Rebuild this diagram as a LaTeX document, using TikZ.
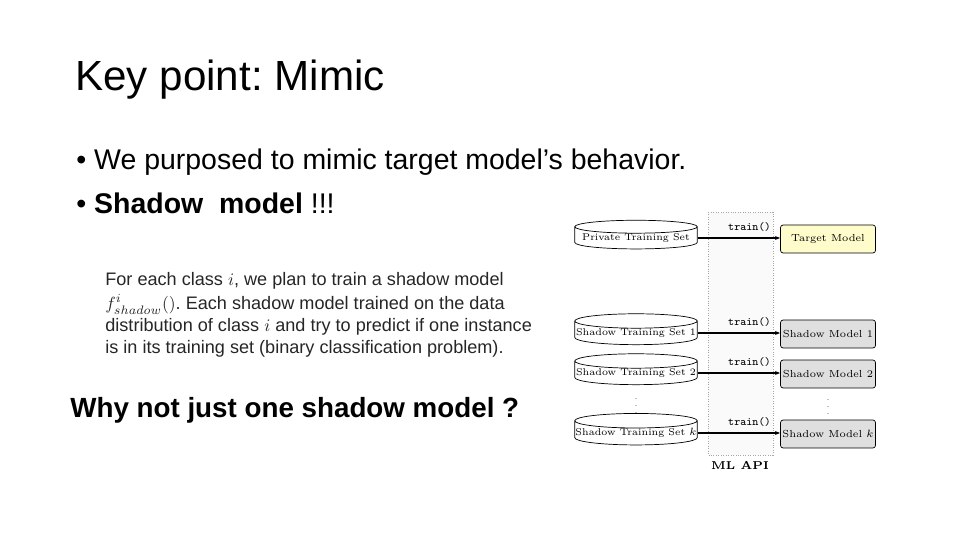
\documentclass[tikz,border=0pt]{standalone}
\usepackage{fontspec}
\setmainfont{Liberation Sans}
\newfontfamily\lmfont{Latin Modern Roman}
\newfontfamily\lmmono{Latin Modern Mono}
\usetikzlibrary{arrows.meta, positioning, shapes.geometric}
\frenchspacing
\tikzset{
  dataset/.style={cylinder, shape border rotate=90, aspect=0.12, draw, fill=white, minimum height=0.55cm, minimum width=2.45cm, inner sep=0pt, font=\lmfont\fontsize{5.6}{6}\selectfont},
  model/.style={draw, rounded corners=1.5pt, minimum width=1.9cm, minimum height=0.56cm, inner sep=1pt, font=\lmfont\fontsize{5.8}{6}\selectfont},
  trainlbl/.style={font=\lmmono\fontsize{6.5}{7}\selectfont},
  flow/.style={-{Stealth[length=3pt]}, semithick}
}
\begin{document}
\begin{tikzpicture}[x=0.02cm, y=-0.02cm]
  \useasboundingbox (0,0) rectangle (960,540);
  % Title and bullets
  \node[anchor=west, inner sep=0pt, font=\fontsize{24}{28}\selectfont] (title) at (75,80) {Key point: Mimic};
  \node[anchor=west, inner sep=0pt, font=\fontsize{16.2}{18}\selectfont] (b1) at (76,162) {\textbullet\ We purposed to mimic target model’s behavior.};
  \node[anchor=west, inner sep=0pt, font=\fontsize{16.2}{18}\selectfont] (b2) at (76,203) {\textbullet\ \textbf{Shadow\ \ model} !!!};
  \node[anchor=north west, align=left, inner sep=0pt, font=\fontsize{10.3}{12.6}\selectfont, text=black!85] (para) at (105,272)
    {For each class $i$, we plan to train a shadow model\\[1pt]
     $f^{i}_{shadow}()$. Each shadow model trained on the data\\
     distribution of class $i$ and try to predict if one instance\\
     is in its training set (binary classification problem).};
  \node[anchor=west, inner sep=0pt, font=\bfseries\fontsize{15.8}{18}\selectfont] (why) at (70,410) {Why not just one shadow model ?};

  % ML API band
  \draw[densely dotted, gray!70, fill=gray!4] (708,212) rectangle (773,455);
  \node[font=\lmfont\bfseries\fontsize{6.5}{7}\selectfont] (api) at (740,465) {ML API};

  % Data sets and models
  \node[dataset] (priv) at (636,238) {Private Training Set};
  \node[dataset] (sh1) at (636,333) {Shadow Training Set 1};
  \node[dataset] (sh2) at (636,373) {Shadow Training Set 2};
  \node[dataset] (shk) at (636,433) {Shadow Training Set $k$};
  \node[model, fill=yellow!20] (target) at (828,239) {Target Model};
  \node[model, fill=gray!25] (m1) at (828,334) {Shadow Model 1};
  \node[model, fill=gray!25] (m2) at (828,374) {Shadow Model 2};
  \node[model, fill=gray!25] (mk) at (828,434) {Shadow Model $k$};
  \node[inner sep=0pt, font=\fontsize{4}{4}\selectfont] (dl) at (636,401) {$\vdots$};
  \node[inner sep=0pt, font=\fontsize{4}{4}\selectfont] (dr) at (828,402) {$\vdots$};

  % Training calls
  \foreach \src/\dst in {priv/target, sh1/m1, sh2/m2, shk/mk}{
    \draw[flow] (\src.east) -- (\src.east -| \dst.west)
      node[trainlbl, midway, above=0pt, xshift=6pt] {train()};
  }
\end{tikzpicture}
\end{document}
